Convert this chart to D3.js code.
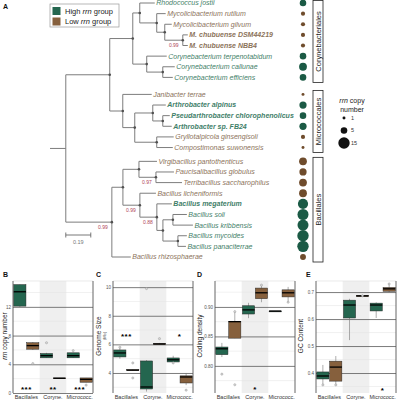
<!DOCTYPE html>
<html>
<head>
<meta charset="utf-8">
<script src="https://cdn.jsdelivr.net/npm/d3@7"></script>
<style>
body { margin: 0; background: #fff; }
text { font-family: "Liberation Sans", Arial, sans-serif; }
</style>
</head>
<body>
<svg id="fig" width="397" height="400"></svg>
<script>
// ---- data ----
function N(len, support) {
    return { len: len, support: support, children: Array.prototype.slice.call(arguments, 2) };
}
function L(name, len) { return { name: name, len: len }; }

// phylogeny, branch lengths in substitutions per site
var treeData = N(0.12, null,
  N(0.334, null,
    N(0.175, null,
      N(0.053, null,
        L("Rhodococcus jostii", 0.114),
        N(0.129, null,
          L("Mycolicibacterium rutilum", 0.068),
          N(0.061, null,
            L("Mycolicibacterium gilvum", 0.053),
            N(0.137, 0.99,
              L("M. chubuense DSM44219", 0.038),
              L("M. chubuense NBB4", 0.038))))),
      N(0.106, null,
        L("Corynebacterium terpenotabidum", 0.152),
        N(0.122, null,
          L("Corynebacterium callunae", 0.091),
          L("Corynebacterium efficiens", 0.076)))),
    N(0.099, null,
      L("Janibacter terrae", 0.22),
      N(0.091, null,
        N(0.137, null,
          L("Arthrobacter alpinus", 0.099),
          N(0.076, null,
            L("Pseudarthrobacter chlorophenolicus", 0.053),
            L("Arthrobacter sp. FB24", 0.068))),
        N(0.167, null,
          L("Gryllotalpicola ginsengisoli", 0.129),
          L("Compostimonas suwonensis", 0.122))))),
  N(0.35, 0.99,
    N(0.084, null,
      N(0.122, null,
        L("Virgibacillus pantothenticus", 0.137),
        N(0.129, 0.97,
          L("Paucisalibacillus globulus", 0.137),
          L("Terribacillus saccharophilus", 0.198))),
      N(0.129, 0.99,
        L("Bacillus licheniformis", 0.122),
        N(0.129, 0.88,
          L("Bacillus megaterium", 0.114),
          N(0.046, null,
            N(0.076, null,
              L("Bacillus soli", 0.106),
              L("Bacillus kribbensis", 0.152)),
            N(0.114, null,
              L("Bacillus mycoides", 0.068),
              L("Bacillus panaciterrae", 0.061)))))),
    L("Bacillus rhizosphaerae", 0.144)));

// per leaf, in tree order
var leafGroup = ["High","Low","Low","Low","Low","High","High","High",
                 "Low","High","High","High","Low","Low",
                 "Low","Low","Low","Low","High","High","High","High","High","Low"];
var leafCopies = [5,2,2,2,2,5,7,5,
                  1,6,5,6,2,1,
                  7,6,7,7,12,14,14,15,15,4];
var boldLeaves = ["M. chubuense DSM44219","M. chubuense NBB4","Arthrobacter alpinus",
                  "Pseudarthrobacter chlorophenolicus","Arthrobacter sp. FB24","Bacillus megaterium"];

var clades = [
    ["Corynebacteriales", "Rhodococcus jostii", "Corynebacterium efficiens"],
    ["Micrococcales", "Janibacter terrae", "Compostimonas suwonensis"],
    ["Bacillales", "Virgibacillus pantothenticus", "Bacillus rhizosphaerae"]
];
var legendCopies = [1, 5, 15];

var cats = ["Bacillales", "Coryne.", "Micrococc."];
var groups = ["High", "Low"];

// [category, group, whisker low, q1, median, q3, whisker high]
var copyBox = [
    ["Bacillales","High",12.0,12.1,14.1,15.1,15.1],
    ["Bacillales","Low",6.0,6.1,6.6,7.0,7.1],
    ["Coryne.","High",4.9,4.9,5.2,5.5,5.6],
    ["Coryne.","Low",2.0,2.0,2.05,2.1,2.1],
    ["Micrococc.","High",4.9,4.9,5.2,5.6,5.6],
    ["Micrococc.","Low",1.5,1.5,1.9,2.1,2.1]
];
var copyPts = [["Bacillales","Low",4.1],["Coryne.","High",7.0],["Micrococc.","High",5.9],["Micrococc.","Low",1.1]];
var copyStars = [["Bacillales","***"],["Coryne.","**"],["Micrococc.","***"]];

var genomeBox = [
    ["Bacillales","High",5.0,5.12,5.4,5.61,5.8],
    ["Bacillales","Low",4.15,4.17,4.2,4.23,4.25],
    ["Coryne.","High",2.7,2.88,3.02,4.84,4.9],
    ["Coryne.","Low",5.98,6.0,6.03,6.06,6.1],
    ["Micrococc.","High",4.65,4.77,4.92,5.05,5.2],
    ["Micrococc.","Low",3.15,3.3,3.72,3.8,4.0]
];
var genomePts = [["Bacillales","High",5.8],["Bacillales","Low",4.7],["Bacillales","Low",3.65],
                 ["Coryne.","High",9.9],["Coryne.","Low",6.4],["Micrococc.","High",4.7],["Micrococc.","Low",2.8]];
var genomeStars = [["Bacillales","***"],["Micrococc.","*"]];

var codingBox = [
    ["Bacillales","High",0.815,0.819,0.829,0.832,0.839],
    ["Bacillales","Low",0.847,0.847,0.875,0.875,0.892],
    ["Coryne.","High",0.881,0.888,0.895,0.902,0.907],
    ["Coryne.","Low",0.908,0.914,0.924,0.932,0.937],
    ["Micrococc.","High",0.893,0.893,0.893,0.893,0.893],
    ["Micrococc.","Low",0.908,0.917,0.924,0.929,0.934]
];
var codingPts = [["Bacillales","High",0.786],["Bacillales","Low",0.768],["Bacillales","Low",0.892],
                 ["Coryne.","Low",0.937],["Micrococc.","Low",0.908]];
var codingStars = [["Coryne.","*"]];

var gcBox = [
    ["Bacillales","High",0.356,0.378,0.389,0.404,0.43],
    ["Bacillales","Low",0.356,0.37,0.422,0.444,0.463],
    ["Coryne.","High",0.522,0.604,0.652,0.670,0.675],
    ["Coryne.","Low",0.682,0.683,0.686,0.688,0.69],
    ["Micrococc.","High",0.604,0.630,0.652,0.659,0.662],
    ["Micrococc.","Low",0.70,0.703,0.712,0.717,0.73]
];
var gcPts = [["Bacillales","High",0.356],["Bacillales","Low",0.356],["Coryne.","Low",0.686],["Micrococc.","Low",0.73]];
var gcStars = [["Micrococc.","*"]];

// ---- style ----
var teal = "#24664f", brown = "#86603d";
var tealText = "#3f8069", brownText = "#8c735a";
var fillOf = { High: teal, Low: brown };
var textOf = { High: tealText, Low: brownText };
var dotOf = { High: "#1b5a45", Low: "#6f4c2c" };

var svg = d3.select("#fig");

// ---- panel A: tree ----
var root = d3.hierarchy(treeData);
root.eachBefore(function(d) { d.cum = (d.parent ? d.parent.cum : 0) + d.data.len; });

var gapAfter = { "Corynebacterium efficiens": 0.6, "Compostimonas suwonensis": 0.3 };
var slot = 0;
var leaves = root.leaves();
leaves.forEach(function(d, i) {
    d.slot = slot;
    d.grp = leafGroup[i];
    d.copies = leafCopies[i];
    slot += 1 + (gapAfter[d.data.name] || 0);
});
var xTree = d3.scaleLinear().domain([0, 1]).range([50, 181.6]);
var yTree = d3.scaleLinear().domain([0, leaves[leaves.length - 1].slot]).range([3, 257]);
root.eachAfter(function(d) {
    if (d.children) d.py = d3.mean(d.children, function(c) { return c.py; });
    else d.py = yTree(d.slot);
    d.px = xTree(d.cum);
});

var gTree = svg.append("g");
var branchColor = "#7d7d7d";
// root stem
gTree.append("line")
    .attr("x1", xTree(0)).attr("x2", root.px)
    .attr("y1", root.py).attr("y2", root.py)
    .attr("stroke", branchColor).attr("stroke-width", 1);
// horizontal branches
gTree.selectAll(".hb")
    .data(root.descendants().slice(1))
    .enter().append("line")
    .attr("x1", function(d) { return d.parent.px; })
    .attr("x2", function(d) { return d.px; })
    .attr("y1", function(d) { return d.py; })
    .attr("y2", function(d) { return d.py; })
    .attr("stroke", branchColor).attr("stroke-width", 1);
// vertical connectors
gTree.selectAll(".vb")
    .data(root.descendants().filter(function(d) { return d.children; }))
    .enter().append("line")
    .attr("x1", function(d) { return d.px; })
    .attr("x2", function(d) { return d.px; })
    .attr("y1", function(d) { return d.children[0].py; })
    .attr("y2", function(d) { return d.children[d.children.length - 1].py; })
    .attr("stroke", branchColor).attr("stroke-width", 1);
// node dots
gTree.selectAll(".nd")
    .data(root.descendants().filter(function(d) { return d.children && d.parent; }))
    .enter().append("circle")
    .attr("cx", function(d) { return d.px; })
    .attr("cy", function(d) { return d.py; })
    .attr("r", 1.3)
    .attr("fill", "#505050");
// support values
gTree.selectAll(".sup")
    .data(root.descendants().filter(function(d) { return d.data.support; }))
    .enter().append("text")
    .attr("x", function(d) { return d.px - 9; })
    .attr("y", function(d) { return d.py + 6.5; })
    .attr("text-anchor", "middle")
    .attr("font-size", "5px")
    .attr("fill", "#b04456")
    .text(function(d) { return d.data.support.toFixed(2); });
// leaf labels
gTree.selectAll(".leaf")
    .data(leaves)
    .enter().append("text")
    .attr("x", function(d) { return d.px + 1.5; })
    .attr("y", function(d) { return d.py; })
    .attr("dy", "0.35em")
    .attr("font-size", "7px")
    .attr("font-style", "italic")
    .attr("font-weight", function(d) { return boldLeaves.indexOf(d.data.name) >= 0 ? "bold" : "normal"; })
    .attr("fill", function(d) { return textOf[d.grp]; })
    .text(function(d) { return d.data.name; });

// copy number circles
var rScale = d3.scaleSqrt().domain([0, 15]).range([0, 5.7]);
gTree.selectAll(".cn")
    .data(leaves)
    .enter().append("circle")
    .attr("cx", 303)
    .attr("cy", function(d) { return d.py; })
    .attr("r", function(d) { return rScale(d.copies); })
    .attr("fill", function(d) { return dotOf[d.grp]; });

// clade boxes
var byName = {};
leaves.forEach(function(d) { byName[d.data.name] = d; });
var gClade = svg.append("g").selectAll("g")
    .data(clades)
    .enter().append("g");
gClade.append("rect")
    .attr("x", 313).attr("width", 10)
    .attr("y", function(d) { return Math.max(0.5, byName[d[1]].py - 4); })
    .attr("height", function(d) { return byName[d[2]].py + 5 - Math.max(0.5, byName[d[1]].py - 4); })
    .attr("fill", "#fff").attr("stroke", "#222").attr("stroke-width", 0.8);
gClade.append("text")
    .attr("transform", function(d) {
        var cy = (Math.max(0.5, byName[d[1]].py - 4) + byName[d[2]].py + 5) / 2;
        return "translate(318.5," + cy + ") rotate(-90)";
    })
    .attr("text-anchor", "middle")
    .attr("dy", "0.35em")
    .attr("font-size", "7.5px")
    .attr("fill", "#222")
    .text(function(d) { return d[0]; });

// size legend
var sizeTitle = svg.append("text").attr("x", 352).attr("y", 103).attr("text-anchor", "middle")
    .attr("font-size", "7px").attr("fill", "#222");
sizeTitle.append("tspan").attr("font-style", "italic").text("rrn");
sizeTitle.append("tspan").text(" copy");
svg.append("text").attr("x", 352).attr("y", 111.5).attr("text-anchor", "middle")
    .attr("font-size", "7px").attr("fill", "#222").text("number");
var legY = d3.scalePoint().domain(legendCopies).range([118, 143]);
var legG = svg.append("g").selectAll("g").data(legendCopies).enter().append("g");
legG.append("circle").attr("cx", 344).attr("cy", function(d) { return legY(d); })
    .attr("r", function(d) { return rScale(d); }).attr("fill", "#111");
legG.append("text").attr("x", 351).attr("y", function(d) { return legY(d); }).attr("dy", "0.35em")
    .attr("font-size", "5.5px").attr("fill", "#333").text(function(d) { return d; });

// group legend
svg.append("rect").attr("x", 50).attr("y", 4).attr("width", 69).attr("height", 23)
    .attr("fill", "#fff").attr("stroke", "#999").attr("stroke-width", 0.7);
var grpLeg = svg.append("g").selectAll("g").data(groups).enter().append("g");
grpLeg.append("rect").attr("x", 52.5)
    .attr("y", function(d, i) { return 7 + i * 10.5; })
    .attr("width", 8).attr("height", 8)
    .attr("fill", function(d) { return fillOf[d]; });
var grpText = grpLeg.append("text").attr("x", 65)
    .attr("y", function(d, i) { return 11 + i * 10.5; })
    .attr("dy", "0.35em").attr("font-size", "7.5px").attr("fill", "#222");
grpText.append("tspan").text(function(d) { return d + " "; });
grpText.append("tspan").attr("font-style", "italic").text("rrn");
grpText.append("tspan").text(" group");

// scale bar
svg.append("line").attr("x1", xTree(0.12)).attr("x2", xTree(0.31)).attr("y1", 235).attr("y2", 235)
    .attr("stroke", "#555").attr("stroke-width", 0.8);
[0.12, 0.31].forEach(function(v) {
    svg.append("line").attr("x1", xTree(v)).attr("x2", xTree(v)).attr("y1", 232.5).attr("y2", 237.5)
        .attr("stroke", "#555").attr("stroke-width", 0.8);
});
svg.append("text").attr("x", xTree(0.215)).attr("y", 244).attr("text-anchor", "middle")
    .attr("font-size", "5.5px").attr("fill", "#777").text("0.19");

// panel letters
[["A", 3, 9], ["B", 3, 277], ["C", 96, 277], ["D", 197, 277], ["E", 306, 277]].forEach(function(p) {
    svg.append("text").attr("x", p[1]).attr("y", p[2]).attr("font-size", "7px")
        .attr("font-weight", "bold").attr("fill", "#111").text(p[0]);
});

// ---- panels B-E: box plots ----
var plotTop = 281, plotBottom = 393;

function boxPanel(cfg, boxes, pts, stars) {
    var g = svg.append("g");
    var xCat = d3.scaleBand().domain(cats).range([cfg.x0, cfg.x0 + 80]);
    var xGrp = d3.scaleBand().domain(groups).range([0, xCat.bandwidth()]).paddingInner(0.06).paddingOuter(0.06);
    var y = d3.scaleLinear().domain(cfg.domain).range([plotBottom, plotTop]);

    g.append("rect").attr("x", xCat("Coryne.")).attr("width", xCat.bandwidth())
        .attr("y", plotTop).attr("height", plotBottom - plotTop).attr("fill", "#efefef");

    g.selectAll(".minor").data(cfg.minor).enter().append("line")
        .attr("x1", cfg.x0).attr("x2", cfg.x0 + 80)
        .attr("y1", function(d) { return y(d); }).attr("y2", function(d) { return y(d); })
        .attr("stroke", "#e2e2e2").attr("stroke-width", 0.5);

    var yAxis = d3.axisLeft(y).tickValues(cfg.major).tickFormat(cfg.fmt).tickSize(-80).tickPadding(2);
    var ax = g.append("g").attr("transform", "translate(" + cfg.x0 + ",0)").call(yAxis);
    ax.select(".domain").remove();
    ax.selectAll(".tick line").attr("stroke", "#5a5a5a").attr("stroke-width", 0.8);
    ax.selectAll(".tick text").attr("font-size", "4.5px").attr("fill", "#555")
        .attr("font-family", "Liberation Sans, Arial, sans-serif");

    g.append("line").attr("x1", cfg.x0).attr("x2", cfg.x0 + 80).attr("y1", plotTop).attr("y2", plotTop)
        .attr("stroke", "#dcdcdc").attr("stroke-width", 0.6);
    [cfg.x0, cfg.x0 + 80].forEach(function(xx) {
        g.append("line").attr("x1", xx).attr("x2", xx).attr("y1", plotTop).attr("y2", plotBottom)
            .attr("stroke", "#555").attr("stroke-width", 0.9);
    });

    var bx = function(d) { return xCat(d[0]) + xGrp(d[1]); };
    var bw = xGrp.bandwidth();

    var bg = g.selectAll(".box").data(boxes).enter().append("g");
    bg.append("line")
        .attr("x1", function(d) { return bx(d) + bw / 2; })
        .attr("x2", function(d) { return bx(d) + bw / 2; })
        .attr("y1", function(d) { return y(d[2]); })
        .attr("y2", function(d) { return y(d[6]); })
        .attr("stroke", "#777").attr("stroke-width", 0.6);
    bg.append("rect")
        .attr("x", bx).attr("width", bw)
        .attr("y", function(d) { return y(d[5]); })
        .attr("height", function(d) { return Math.max(0.8, y(d[3]) - y(d[5])); })
        .attr("fill", function(d) { return fillOf[d[1]]; })
        .attr("stroke", "#2a2a2a").attr("stroke-width", 0.5);
    bg.append("line")
        .attr("x1", bx)
        .attr("x2", function(d) { return bx(d) + bw; })
        .attr("y1", function(d) { return y(d[4]); })
        .attr("y2", function(d) { return y(d[4]); })
        .attr("stroke", "#000").attr("stroke-width", 1.3);

    g.selectAll(".pt").data(pts).enter().append("circle")
        .attr("cx", function(d) { return bx(d) + bw / 2; })
        .attr("cy", function(d) { return y(d[2]); })
        .attr("r", 1.1)
        .attr("fill", "#d5d5d5").attr("stroke", "#8a8a8a").attr("stroke-width", 0.4);

    g.selectAll(".star").data(stars).enter().append("text")
        .attr("x", function(d) { return xCat(d[0]) + xCat.bandwidth() / 2; })
        .attr("y", y(cfg.starY) + 3.5)
        .attr("text-anchor", "middle")
        .attr("font-size", "8px").attr("font-weight", "bold").attr("fill", "#000")
        .attr("letter-spacing", "0.5px")
        .text(function(d) { return d[1]; });

    g.selectAll(".cat").data(cats).enter().append("text")
        .attr("x", function(d) { return xCat(d) + xCat.bandwidth() / 2; })
        .attr("y", 399)
        .attr("text-anchor", "middle")
        .attr("font-size", "5.5px").attr("fill", "#333")
        .text(function(d) { return d; });

    var t = g.append("text")
        .attr("transform", "translate(" + (cfg.x0 + cfg.titleDx) + "," + 336 + ") rotate(-90)")
        .attr("text-anchor", "middle").attr("font-size", "6.5px").attr("fill", "#222");
    if (cfg.italicFirst) {
        t.append("tspan").attr("font-style", "italic").text(cfg.italicFirst);
    }
    t.append("tspan").text(cfg.title);
    if (cfg.sub) {
        g.append("text")
            .attr("transform", "translate(" + (cfg.x0 + cfg.titleDx + 4.5) + "," + 336 + ") rotate(-90)")
            .attr("text-anchor", "middle").attr("font-size", "4px").attr("fill", "#444")
            .text(cfg.sub);
    }
}

boxPanel({ x0: 13, domain: [0, 15.6], major: [0, 4, 8, 12], minor: [2, 6, 10, 14],
           fmt: d3.format("d"), starY: 0.6, titleDx: -6.3, italicFirst: "rrn", title: " copy number" },
         copyBox, copyPts, copyStars);
boxPanel({ x0: 113, domain: [2.6, 10.43], major: [4, 6, 8, 10], minor: [3, 5, 7, 9],
           fmt: d3.format("d"), starY: 6.6, titleDx: -12, title: "Genome Size", sub: "(Mb)" },
         genomeBox, genomePts, genomeStars);
boxPanel({ x0: 215, domain: [0.754, 0.944], major: [0.80, 0.85, 0.90], minor: [0.775, 0.825, 0.875, 0.925],
           fmt: d3.format(".2f"), starY: 0.762, titleDx: -13, title: "Coding density" },
         codingBox, codingPts, codingStars);
boxPanel({ x0: 316, domain: [0.326, 0.741], major: [0.4, 0.5, 0.6, 0.7], minor: [0.35, 0.45, 0.55, 0.65],
           fmt: d3.format(".1f"), starY: 0.34, titleDx: -13, title: "GC Content" },
         gcBox, gcPts, gcStars);
</script>
</body>
</html>
